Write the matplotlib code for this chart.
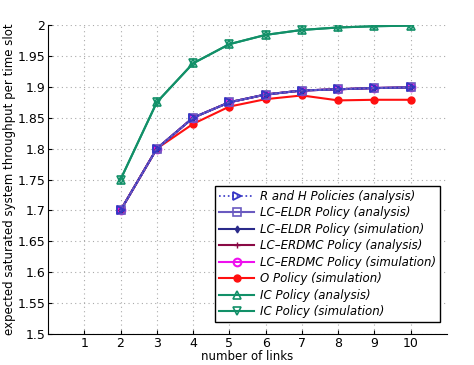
import numpy as np
import matplotlib
matplotlib.use("Agg")
import matplotlib.pyplot as plt

links = [2, 3, 4, 5, 6, 7, 8, 9, 10]
rh_analysis = [1.70, 1.80, 1.85, 1.875, 1.8875, 1.894, 1.896, 1.898, 1.899]
eldr_analysis = [1.70, 1.80, 1.85, 1.875, 1.8875, 1.894, 1.896, 1.898, 1.899]
eldr_sim = [1.70, 1.80, 1.85, 1.875, 1.8875, 1.894, 1.896, 1.898, 1.899]
erdmc_analysis = [1.70, 1.80, 1.85, 1.875, 1.8875, 1.894, 1.896, 1.898, 1.899]
erdmc_sim = [1.70, 1.80, 1.85, 1.875, 1.8875, 1.894, 1.896, 1.898, 1.899]
o_sim = [1.70, 1.80, 1.84, 1.868, 1.880, 1.886, 1.878, 1.879, 1.879]
ic_analysis = [1.75, 1.875, 1.938, 1.969, 1.984, 1.992, 1.996, 1.998, 1.999]
ic_sim = [1.75, 1.875, 1.938, 1.969, 1.984, 1.992, 1.996, 1.998, 1.999]

fig = plt.figure(figsize=(4.74, 3.65), dpi=100)
ax = fig.add_axes([48 / 474, 31 / 365, 399 / 474, 309 / 365])

green = '#129068'
lw = 1.5
ax.plot(links, ic_analysis, color=green, lw=lw, marker='^', ms=5.5, mfc='none', mew=1.2,
        label='IC Policy (analysis)', zorder=3)
ax.plot(links, ic_sim, color=green, lw=lw, marker='v', ms=5.5, mfc='none', mew=1.2,
        label='IC Policy (simulation)', zorder=3)
ax.plot(links, o_sim, color='#ff1010', lw=lw, marker='o', ms=5, mfc='#ff1010',
        label='O Policy (simulation)', zorder=3)
ax.plot(links, erdmc_sim, color='#ee10ee', lw=lw, marker='o', ms=5.5, mfc='none', mew=1.5,
        label='LC\u2013ERDMC Policy (simulation)', zorder=4)
ax.plot(links, erdmc_analysis, color='#8a0a45', lw=lw, marker='+', ms=5,
        label='LC\u2013ERDMC Policy (analysis)', zorder=4)
ax.plot(links, eldr_sim, color='#2a2a8a', lw=lw, marker='d', ms=3.5,
        label='LC\u2013ELDR Policy (simulation)', zorder=4)
ax.plot(links, eldr_analysis, color='#6a5ac0', lw=lw, marker='s', ms=5.5, mfc='none', mew=1.2,
        label='LC\u2013ELDR Policy (analysis)', zorder=4)
ax.plot(links, rh_analysis, color='#3535c5', lw=1.2, ls=':', marker='>', ms=5.5, mfc='none',
        mew=1.3, label='R and H Policies (analysis)', zorder=5)

ax.set_xlim(0, 11)
ax.set_ylim(1.5, 2.0)
ax.set_xticks(range(1, 11))
ax.set_yticks(np.arange(1.5, 2.001, 0.05))
ax.set_yticklabels(['1.5', '1.55', '1.6', '1.65', '1.7', '1.75', '1.8', '1.85', '1.9', '1.95', '2'])
ax.grid(True, ls=(0, (1, 3)), color='#aaaaaa', lw=0.8)
ax.spines['top'].set_visible(False)
ax.spines['right'].set_visible(False)
ax.tick_params(labelsize=9, direction='in', length=3, pad=2)
ax.set_xlabel('number of links', fontsize=8.5, labelpad=0)
ax.set_ylabel('expected saturated system throughput per time slot', fontsize=8.5, labelpad=1)

handles, labels = ax.get_legend_handles_labels()
order = [7, 6, 5, 4, 3, 2, 0, 1]
leg = ax.legend([handles[i] for i in order], [labels[i] for i in order],
                loc='lower right', bbox_to_anchor=((440 - 48) / 399, 12 / 309),
                bbox_transform=ax.transAxes, fancybox=False, edgecolor='black',
                prop={'style': 'italic', 'size': 8.5}, handlelength=3.0,
                labelspacing=0.3, borderpad=0.3, handletextpad=0.5, framealpha=1,
                borderaxespad=0)
leg.get_frame().set_linewidth(1.0)

fig.savefig('out.png', dpi=100)
